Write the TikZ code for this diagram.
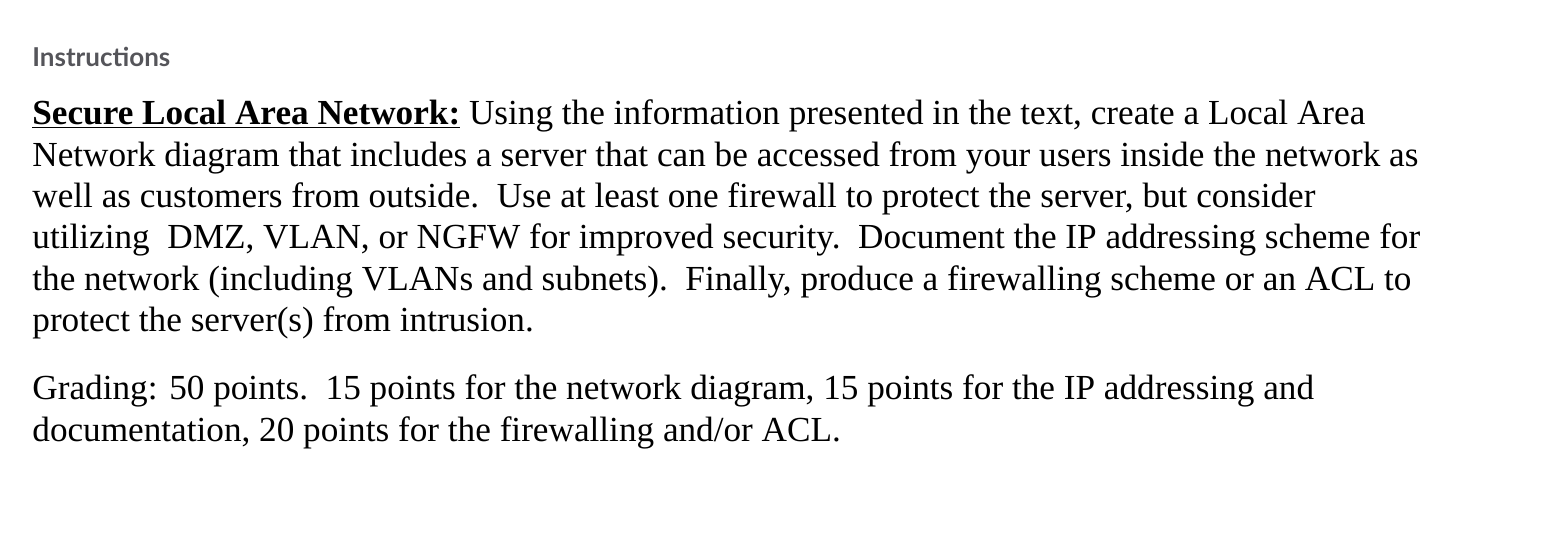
\documentclass[tikz,border=0pt]{standalone}
\usepackage{fontspec}
\setmainfont{Liberation Serif}
\newfontfamily\headfont{Lato}
\definecolor{headgray}{RGB}{85,85,90}
\begin{document}
\begin{tikzpicture}[x=1pt,y=1pt,
  line/.style={anchor=base west,inner sep=0pt,font=\fontsize{17.6}{21}\selectfont}]
\useasboundingbox (0,0) rectangle (773,-276);
\node[anchor=base west,inner sep=0pt,font=\headfont\bfseries\fontsize{13}{15}\selectfont,text=headgray] (h) at (16,-33) {Instructions};
\node[line] (l1) at (16,-62) {\textbf{\underline{Secure Local Area Network:}} Using the information presented in the text, create a Local Area};
\node[line] (l2) at (16,-83) {Network diagram that includes a server that can be accessed from your users inside the network as};
\node[line] (l3) at (16,-103.5) {well as customers from outside.\ \ Use at least one firewall to protect the server, but consider};
\node[line] (l4) at (16,-124) {utilizing\ \ DMZ, VLAN, or NGFW for improved security.\ \ Document the IP addressing scheme for};
\node[line] (l5) at (16,-145) {the network (including VLANs and subnets).\ \ Finally, produce a firewalling scheme or an ACL to};
\node[line] (l6) at (16,-165.5) {protect the server(s) from intrusion.};
\node[line] (g1) at (16,-199.5) {Grading: 50 points.\ \ 15 points for the network diagram, 15 points for the IP addressing and};
\node[line] (g2) at (16,-220.5) {documentation, 20 points for the firewalling and/or ACL.};
\end{tikzpicture}
\end{document}
